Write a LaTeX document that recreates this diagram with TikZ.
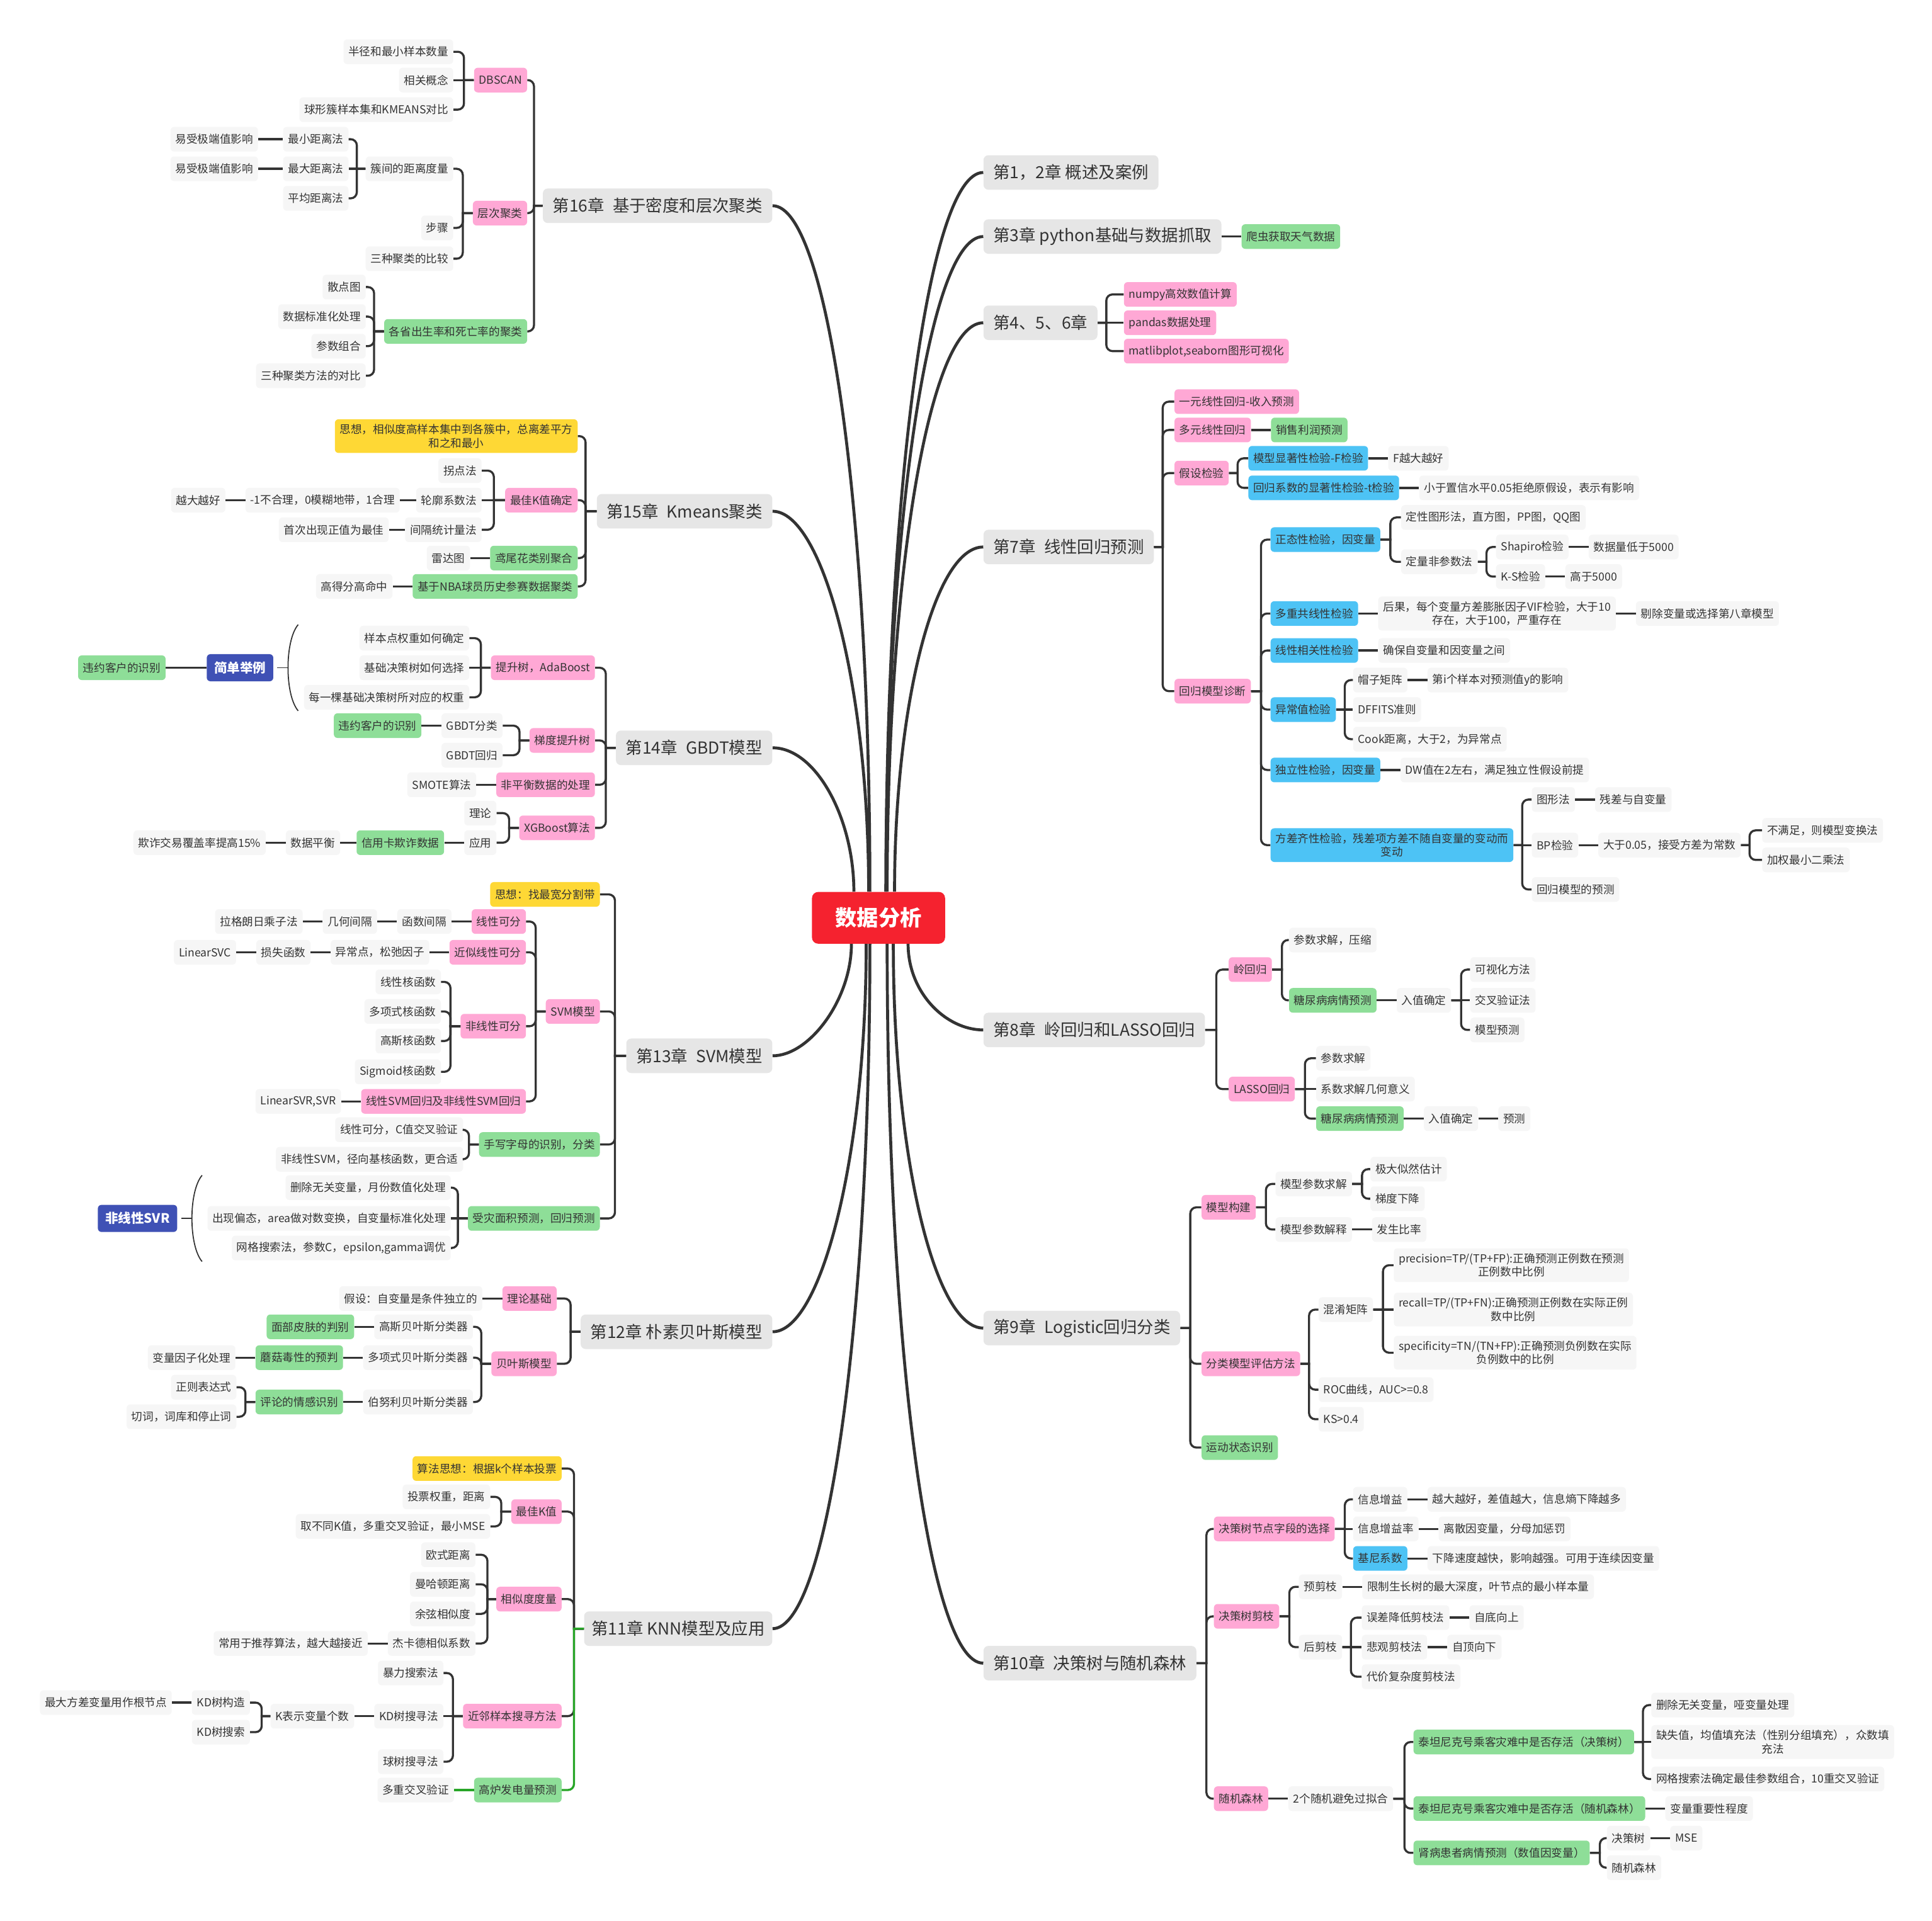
\documentclass[tikz,border=0pt]{standalone}
\usepackage{fontspec}
\setmainfont{Noto Sans CJK SC}
\usepackage{tikz}
\usetikzlibrary{positioning,calc}

\definecolor{ink}{HTML}{333333}
\definecolor{mline}{HTML}{333333}
\definecolor{mgline}{HTML}{27A527}
\definecolor{rootred}{HTML}{F5222F}
\definecolor{chapgray}{HTML}{E6E6E6}
\definecolor{leafgray}{HTML}{F6F6F6}
\definecolor{mpink}{HTML}{FFA8D5}
\definecolor{mgreen}{HTML}{8EDE98}
\definecolor{mblue}{HTML}{4DC3F5}
\definecolor{myellow}{HTML}{FED835}
\definecolor{mindigo}{HTML}{3F51B5}

\begin{document}
\begin{tikzpicture}[x=1pt,y=-1pt,
    leaf/.style={rounded corners=3pt,fill=leafgray,text=ink,font=\fontsize{9}{11}\selectfont,inner xsep=4pt,inner ysep=4pt,minimum height=20pt,align=center},
    pk/.style={leaf,fill=mpink},
    gn/.style={leaf,fill=mgreen},
    bl/.style={leaf,fill=mblue},
    yl/.style={leaf,fill=myellow},
    tag/.style={leaf,fill=mindigo,text=white,font=\fontsize{10.5}{12}\selectfont\bfseries,inner xsep=6pt,minimum height=22pt},
    chap/.style={rounded corners=4pt,fill=chapgray,text=ink,font=\fontsize{13.5}{16}\selectfont,inner xsep=8pt,minimum height=28pt},
    hub/.style={rounded corners=5pt,fill=rootred,text=white,font=\fontsize{17.5}{20}\selectfont\bfseries,inner xsep=19pt,minimum height=42pt},
    link/.style={draw=mline,line width=1.7pt},
    trunk/.style={draw=mline,line width=2.4pt},
    node distance=16pt,
]
    \useasboundingbox (0,0) rectangle (1568,1559);
    \fill[white] (0,0) rectangle (1568,1559);

    \node[hub] (root) at (713,745) {数据分析};

    % right half
    \node[chap,anchor=west] (ch1) at (798,140) {第1，2章 概述及案例};
    \node[chap,anchor=west] (ch3) at (798,192) {第3章 python基础与数据抓取};
    \node[gn,right=of ch3] (weather) {爬虫获取天气数据};
    \node[chap,anchor=west] (ch4) at (798,262) {第4、5、6章};
    \node[pk,anchor=west] (numpy) at (912,239) {numpy高效数值计算};
    \node[pk,anchor=west] (pandas) at (912,262) {pandas数据处理};
    \node[pk,anchor=west] (plotlib) at (912,285) {matlibplot,seaborn图形可视化};

    \node[chap,anchor=west] (ch7) at (798,444) {第7章\enspace 线性回归预测};
    \node[pk,anchor=west] (linA) at (953,326) {一元线性回归-收入预测};
    \node[pk,anchor=west] (linB) at (953,349) {多元线性回归};
    \node[gn,right=of linB] (linBx) {销售利润预测};
    \node[pk,anchor=west] (hyp) at (953,384) {假设检验};
    \node[bl,anchor=west] (ftest) at (1013,372) {模型显著性检验-F检验};
    \node[leaf,right=of ftest] (ftestx) {F越大越好};
    \node[bl,anchor=west] (ttest) at (1013,396) {回归系数的显著性检验-t检验};
    \node[leaf,right=of ttest] (ttestx) {小于置信水平0.05拒绝原假设，表示有影响};
    \node[pk,anchor=west] (diag) at (953,561) {回归模型诊断};
    \node[bl,anchor=west] (norm) at (1031,438) {正态性检验，因变量};
    \node[leaf,anchor=west] (normA) at (1137,420) {定性图形法，直方图，PP图，QQ图};
    \node[leaf,anchor=west] (normB) at (1137,456) {定量非参数法};
    \node[leaf,anchor=west] (shapiro) at (1214,444) {Shapiro检验};
    \node[leaf,right=of shapiro] (shapirox) {数据量低于5000};
    \node[leaf,anchor=west] (kstest) at (1214,468) {K-S检验};
    \node[leaf,right=of kstest] (kstestx) {高于5000};
    \node[bl,anchor=west] (vif) at (1031,498) {多重共线性检验};
    \node[leaf,right=of vif] (vifx) {后果，每个变量方差膨胀因子VIF检验，大于10\\存在，大于100，严重存在};
    \node[leaf,right=of vifx] (vifxx) {剔除变量或选择第八章模型};
    \node[bl,anchor=west] (lincor) at (1031,528) {线性相关性检验};
    \node[leaf,right=of lincor] (lincorx) {确保自变量和因变量之间};
    \node[bl,anchor=west] (outl) at (1031,576) {异常值检验};
    \node[leaf,anchor=west] (hat) at (1098,552) {帽子矩阵};
    \node[leaf,right=of hat] (hatx) {第i个样本对预测值y的影响};
    \node[leaf,anchor=west] (dffits) at (1098,576) {DFFITS准则};
    \node[leaf,anchor=west] (cook) at (1098,600) {Cook距离，大于2，为异常点};
    \node[bl,anchor=west] (indep) at (1031,625) {独立性检验，因变量};
    \node[leaf,right=of indep] (indepx) {DW值在2左右，满足独立性假设前提};
    \node[bl,anchor=west] (homo) at (1031,686) {方差齐性检验，残差项方差不随自变量的变动而\\变动};
    \node[leaf,anchor=west] (graph) at (1243,649) {图形法};
    \node[leaf,right=of graph] (graphx) {残差与自变量};
    \node[leaf,anchor=west] (bp) at (1243,686) {BP检验};
    \node[leaf,right=of bp] (bpx) {大于0.05，接受方差为常数};
    \node[leaf,anchor=west] (bpA) at (1430,674) {不满足，则模型变换法};
    \node[leaf,anchor=west] (bpB) at (1430,698) {加权最小二乘法};
    \node[leaf,anchor=west] (regpred) at (1243,722) {回归模型的预测};

    \node[chap,anchor=west] (ch8) at (798,836) {第8章\enspace 岭回归和LASSO回归};
    \node[pk,anchor=west] (ridge) at (997,787) {岭回归};
    \node[leaf,anchor=west] (ridgeA) at (1046,763) {参数求解，压缩};
    \node[gn,anchor=west] (ridgeB) at (1046,812) {糖尿病病情预测};
    \node[leaf,right=of ridgeB] (ridgeK) {入值确定};
    \node[leaf,anchor=west] (ridgeK1) at (1193,787) {可视化方法};
    \node[leaf,anchor=west] (ridgeK2) at (1193,812) {交叉验证法};
    \node[leaf,anchor=west] (ridgeK3) at (1193,836) {模型预测};
    \node[pk,anchor=west] (lasso) at (997,884) {LASSO回归};
    \node[leaf,anchor=west] (lassoA) at (1068,859) {参数求解};
    \node[leaf,anchor=west] (lassoB) at (1068,884) {系数求解几何意义};
    \node[gn,anchor=west] (lassoC) at (1068,908) {糖尿病病情预测};
    \node[leaf,right=of lassoC] (lassoK) {入值确定};
    \node[leaf,right=of lassoK] (lassoP) {预测};

    \node[chap,anchor=west] (ch9) at (798,1078) {第9章\enspace Logistic回归分类};
    \node[pk,anchor=west] (build) at (975,980) {模型构建};
    \node[leaf,anchor=west] (solve) at (1035,961) {模型参数求解};
    \node[leaf,anchor=west] (mle) at (1112,949) {极大似然估计};
    \node[leaf,anchor=west] (gd) at (1112,973) {梯度下降};
    \node[leaf,anchor=west] (interp) at (1035,998) {模型参数解释};
    \node[leaf,right=of interp] (odds) {发生比率};
    \node[pk,anchor=west] (evalm) at (975,1107) {分类模型评估方法};
    \node[leaf,anchor=west] (confm) at (1070,1063) {混淆矩阵};
    \node[leaf,anchor=west] (prec) at (1131,1027) {precision=TP/(TP+FP):正确预测正例数在预测\\正例数中比例};
    \node[leaf,anchor=west] (recall) at (1131,1063) {recall=TP/(TP+FN):正确预测正例数在实际正例\\数中比例};
    \node[leaf,anchor=west] (spec) at (1131,1098) {specificity=TN/(TN+FP):正确预测负例数在实际\\负例数中的比例};
    \node[leaf,anchor=west] (roc) at (1070,1128) {ROC曲线，AUC>=0.8};
    \node[leaf,anchor=west] (ks) at (1070,1152) {KS>0.4};
    \node[gn,anchor=west] (motion) at (975,1175) {运动状态识别};

    \node[chap,anchor=west] (ch10) at (798,1350) {第10章\enspace 决策树与随机森林};
    \node[pk,anchor=west] (split) at (985,1241) {决策树节点字段的选择};
    \node[leaf,anchor=west] (gain) at (1098,1217) {信息增益};
    \node[leaf,right=of gain] (gainx) {越大越好，差值越大，信息熵下降越多};
    \node[leaf,anchor=west] (gainr) at (1098,1241) {信息增益率};
    \node[leaf,right=of gainr] (gainrx) {离散因变量，分母加惩罚};
    \node[bl,anchor=west] (gini) at (1098,1265) {基尼系数};
    \node[leaf,right=of gini] (ginix) {下降速度越快，影响越强。可用于连续因变量};
    \node[pk,anchor=west] (prune) at (985,1312) {决策树剪枝};
    \node[leaf,anchor=west] (pre) at (1054,1288) {预剪枝};
    \node[leaf,right=of pre] (prex) {限制生长树的最大深度，叶节点的最小样本量};
    \node[leaf,anchor=west] (post) at (1054,1337) {后剪枝};
    \node[leaf,anchor=west] (rep) at (1105,1313) {误差降低剪枝法};
    \node[leaf,right=of rep] (repx) {自底向上};
    \node[leaf,anchor=west] (pes) at (1105,1337) {悲观剪枝法};
    \node[leaf,right=of pes] (pesx) {自顶向下};
    \node[leaf,anchor=west] (ccp) at (1105,1361) {代价复杂度剪枝法};
    \node[pk,anchor=west] (rf) at (985,1460) {随机森林};
    \node[leaf,right=of rf] (rfx) {2个随机避免过拟合};
    \node[gn,anchor=west] (tita) at (1147,1414) {泰坦尼克号乘客灾难中是否存活（决策树）};
    \node[leaf,anchor=west] (titaA) at (1340,1384) {删除无关变量，哑变量处理};
    \node[leaf,anchor=west] (titaB) at (1340,1414) {缺失值，均值填充法（性别分组填充），众数填\\充法};
    \node[leaf,anchor=west] (titaC) at (1340,1444) {网格搜索法确定最佳参数组合，10重交叉验证};
    \node[gn,anchor=west] (titb) at (1147,1468) {泰坦尼克号乘客灾难中是否存活（随机森林）};
    \node[leaf,right=of titb] (titbx) {变量重要性程度};
    \node[gn,anchor=west] (kidney) at (1147,1504) {肾病患者病情预测（数值因变量）};
    \node[leaf,anchor=west] (kdt) at (1304,1492) {决策树};
    \node[leaf,right=of kdt] (kdtx) {MSE};
    \node[leaf,anchor=west] (krf) at (1304,1516) {随机森林};

    % left half
    \node[chap,anchor=east] (ch16) at (627,167) {第16章\enspace 基于密度和层次聚类};
    \node[pk,anchor=east] (dbscan) at (428,65) {DBSCAN};
    \node[leaf,anchor=east] (dbA) at (368,42) {半径和最小样本数量};
    \node[leaf,anchor=east] (dbB) at (368,65) {相关概念};
    \node[leaf,anchor=east] (dbC) at (368,89) {球形簇样本集和KMEANS对比};
    \node[pk,anchor=east] (hier) at (428,173) {层次聚类};
    \node[leaf,anchor=east] (clud) at (368,137) {簇间的距离度量};
    \node[leaf,anchor=east] (dmin) at (283,113) {最小距离法};
    \node[leaf,left=20pt of dmin] (dminx) {易受极端值影响};
    \node[leaf,anchor=east] (dmax) at (283,137) {最大距离法};
    \node[leaf,left=20pt of dmax] (dmaxx) {易受极端值影响};
    \node[leaf,anchor=east] (davg) at (283,161) {平均距离法};
    \node[leaf,anchor=east] (steps) at (368,185) {步骤};
    \node[leaf,anchor=east] (cmp3) at (368,210) {三种聚类的比较};
    \node[gn,anchor=east] (births) at (428,269) {各省出生率和死亡率的聚类};
    \node[leaf,anchor=east] (scatter) at (297,233) {散点图};
    \node[leaf,anchor=east] (stdz) at (297,257) {数据标准化处理};
    \node[leaf,anchor=east] (params) at (297,281) {参数组合};
    \node[leaf,anchor=east] (cmpm) at (297,305) {三种聚类方法的对比};

    \node[chap,anchor=east] (ch15) at (627,415) {第15章\enspace Kmeans聚类};
    \node[yl,anchor=east] (kidea) at (469,354) {思想，相似度高样本集中到各簇中，总离差平方\\和之和最小};
    \node[pk,anchor=east] (bestk) at (469,406) {最佳K值确定};
    \node[leaf,anchor=east] (elbow) at (391,382) {拐点法};
    \node[leaf,anchor=east] (silh) at (391,406) {轮廓系数法};
    \node[leaf,left=13pt of silh] (silhx) {-1不合理，0模糊地带，1合理};
    \node[leaf,left=of silhx] (silhxx) {越大越好};
    \node[leaf,anchor=east] (gap) at (391,430) {间隔统计量法};
    \node[leaf,left=13pt of gap] (gapx) {首次出现正值为最佳};
    \node[gn,anchor=east] (iris) at (469,453) {鸢尾花类别聚合};
    \node[leaf,left=of iris] (irisx) {雷达图};
    \node[gn,anchor=east] (nba) at (469,476) {基于NBA球员历史参赛数据聚类};
    \node[leaf,left=of nba] (nbax) {高得分高命中};

    \node[chap,anchor=east] (ch14) at (627,607) {第14章\enspace GBDT模型};
    \node[pk,anchor=east] (ada) at (483,542) {提升树，AdaBoost};
    \node[leaf,anchor=east] (adaA) at (381,518) {样本点权重如何确定};
    \node[leaf,anchor=east] (adaB) at (381,542) {基础决策树如何选择};
    \node[leaf,anchor=east] (adaC) at (381,566) {每一棵基础决策树所对应的权重};
    \node[tag,anchor=east] (ex1) at (222,542) {简单举例};
    \node[gn,left=33pt of ex1] (ex1x) {违约客户的识别};
    \coordinate (sum1) at (234,542);
    \node[pk,anchor=east] (gbt) at (483,601) {梯度提升树};
    \node[leaf,anchor=east] (gbdtc) at (408,589) {GBDT分类};
    \node[gn,left=of gbdtc] (gbdtcx) {违约客户的识别};
    \node[leaf,anchor=east] (gbdtr) at (408,613) {GBDT回归};
    \node[pk,anchor=east] (imb) at (483,637) {非平衡数据的处理};
    \node[leaf,left=of imb] (smote) {SMOTE算法};
    \node[pk,anchor=east] (xgb) at (483,672) {XGBoost算法};
    \node[leaf,anchor=east] (theory) at (403,660) {理论};
    \node[leaf,anchor=east] (apply) at (403,684) {应用};
    \node[gn,left=of apply] (ccard) {信用卡欺诈数据};
    \node[leaf,left=13pt of ccard] (balance) {数据平衡};
    \node[leaf,left=of balance] (fraud) {欺诈交易覆盖率提高15\%};

    \node[chap,anchor=east] (ch13) at (627,857) {第13章\enspace SVM模型};
    \node[yl,anchor=east] (sidea) at (487,726) {思想：找最宽分割带};
    \node[pk,anchor=east] (svm) at (487,821) {SVM模型};
    \node[pk,anchor=east] (sep) at (427,748) {线性可分};
    \node[leaf,left=of sep] (sepx) {函数间隔};
    \node[leaf,left=of sepx] (sepxx) {几何间隔};
    \node[leaf,left=of sepxx] (sepxxx) {拉格朗日乘子法};
    \node[pk,anchor=east] (asep) at (427,773) {近似线性可分};
    \node[leaf,left=of asep] (asepx) {异常点，松弛因子};
    \node[leaf,left=of asepx] (asepxx) {损失函数};
    \node[leaf,left=of asepxx] (asepxxx) {LinearSVC};
    \node[pk,anchor=east] (nsep) at (427,833) {非线性可分};
    \node[leaf,anchor=east] (kern1) at (358,797) {线性核函数};
    \node[leaf,anchor=east] (kern2) at (358,821) {多项式核函数};
    \node[leaf,anchor=east] (kern3) at (358,845) {高斯核函数};
    \node[leaf,anchor=east] (kern4) at (358,870) {Sigmoid核函数};
    \node[pk,anchor=east] (svr) at (427,894) {线性SVM回归及非线性SVM回归};
    \node[leaf,left=of svr] (svrx) {LinearSVR,SVR};
    \node[gn,anchor=east] (hand) at (487,929) {手写字母的识别，分类};
    \node[leaf,anchor=east] (handA) at (376,917) {线性可分，C值交叉验证};
    \node[leaf,anchor=east] (handB) at (376,941) {非线性SVM，径向基核函数，更合适};
    \node[gn,anchor=east] (fire) at (487,989) {受灾面积预测，回归预测};
    \node[leaf,anchor=east] (fireA) at (366,964) {删除无关变量，月份数值化处理};
    \node[leaf,anchor=east] (fireB) at (366,989) {出现偏态，area做对数变换，自变量标准化处理};
    \node[leaf,anchor=east] (fireC) at (366,1013) {网格搜索法，参数C，epsilon,gamma调优};
    \node[tag,anchor=east] (ex2) at (144,989) {非线性SVR};
    \coordinate (sum2) at (156,989);

    \node[chap,anchor=east] (ch12) at (627,1081) {第12章 朴素贝叶斯模型};
    \node[pk,anchor=east] (nbt) at (452,1054) {理论基础};
    \node[leaf,left=of nbt] (nbtx) {假设：自变量是条件独立的};
    \node[pk,anchor=east] (nbm) at (452,1107) {贝叶斯模型};
    \node[leaf,anchor=east] (gnb) at (384,1077) {高斯贝叶斯分类器};
    \node[gn,left=of gnb] (skin) {面部皮肤的判别};
    \node[leaf,anchor=east] (mnb) at (384,1102) {多项式贝叶斯分类器};
    \node[gn,left=of mnb] (mush) {蘑菇毒性的预判};
    \node[leaf,left=of mush] (mushx) {变量因子化处理};
    \node[leaf,anchor=east] (bnb) at (384,1138) {伯努利贝叶斯分类器};
    \node[gn,left=of bnb] (review) {评论的情感识别};
    \node[leaf,anchor=east] (regex) at (192,1126) {正则表达式};
    \node[leaf,anchor=east] (words) at (192,1150) {切词，词库和停止词};

    \node[chap,anchor=east,inner xsep=6pt] (ch11) at (627,1322) {第11章 KNN模型及应用};
    \node[yl,anchor=east] (kvote) at (456,1192) {算法思想：根据k个样本投票};
    \node[pk,anchor=east] (kbest) at (456,1227) {最佳K值};
    \node[leaf,anchor=east] (kbA) at (398,1215) {投票权重，距离};
    \node[leaf,anchor=east] (kbB) at (398,1239) {取不同K值，多重交叉验证，最小MSE};
    \node[pk,anchor=east] (sim) at (456,1298) {相似度度量};
    \node[leaf,anchor=east] (simA) at (386,1262) {欧式距离};
    \node[leaf,anchor=east] (simB) at (386,1286) {曼哈顿距离};
    \node[leaf,anchor=east] (simC) at (386,1310) {余弦相似度};
    \node[leaf,anchor=east] (simD) at (386,1334) {杰卡德相似系数};
    \node[leaf,left=of simD] (simDx) {常用于推荐算法，越大越接近};
    \node[pk,anchor=east] (search) at (456,1393) {近邻样本搜寻方法};
    \node[leaf,anchor=east] (brute) at (360,1358) {暴力搜索法};
    \node[leaf,anchor=east] (kdsearch) at (360,1393) {KD树搜寻法};
    \node[leaf,left=of kdsearch] (kvars) {K表示变量个数};
    \node[leaf,anchor=east] (kdbuild) at (203,1382) {KD树构造};
    \node[leaf,left=of kdbuild] (kdbuildx) {最大方差变量用作根节点};
    \node[leaf,anchor=east] (kdfind) at (203,1406) {KD树搜索};
    \node[leaf,anchor=east] (ball) at (360,1430) {球树搜寻法};
    \node[gn,anchor=east] (furnace) at (456,1453) {高炉发电量预测};
    \node[leaf,left=of furnace] (furnacex) {多重交叉验证};

    % main branches from the centre
    \draw[trunk] ([xshift=6pt]root.north) .. controls +(0,-320) and +(-45,0) .. (ch1.west);
    \draw[trunk] ([xshift=6pt]root.north) .. controls +(0,-290) and +(-45,0) .. (ch3.west);
    \draw[trunk] ([xshift=7pt]root.north) .. controls +(0,-250) and +(-45,0) .. (ch4.west);
    \draw[trunk] ([xshift=13pt]root.north) .. controls +(0,-150) and +(-40,0) .. (ch7.west);
    \draw[trunk] ([xshift=24pt]root.south) .. controls +(0,40) and +(-30,0) .. (ch8.west);
    \draw[trunk] ([xshift=12pt]root.south) .. controls +(0,170) and +(-40,0) .. (ch9.west);
    \draw[trunk] ([xshift=7pt]root.south) .. controls +(0,320) and +(-45,0) .. (ch10.west);
    \draw[trunk] ([xshift=-7pt]root.north) .. controls +(0,-305) and +(45,0) .. (ch16.east);
    \draw[trunk] ([xshift=-8pt]root.north) .. controls +(0,-170) and +(40,0) .. (ch15.east);
    \draw[trunk] ([xshift=-20pt]root.north) .. controls +(0,-60) and +(35,0) .. (ch14.east);
    \draw[trunk] ([xshift=-22pt]root.south) .. controls +(0,45) and +(30,0) .. (ch13.east);
    \draw[trunk] ([xshift=-10pt]root.south) .. controls +(0,170) and +(40,0) .. (ch12.east);
    \draw[trunk] ([xshift=-7pt]root.south) .. controls +(0,305) and +(45,0) .. (ch11.east);

    % right half connectors
    \draw[link] (ch3.east) -- (weather.west);
    \foreach \k in {numpy,plotlib} \draw[link] (ch4.east) -- ++(7,0) [rounded corners=5pt] |- (\k.west);
    \draw[link] (ch4.east) -- (pandas.west);
    \foreach \k in {linA,linB,hyp,diag} \draw[link] (ch7.east) -- ++(7,0) [rounded corners=5pt] |- (\k.west);
    \draw[link] (linB.east) -- (linBx.west);
    \foreach \k in {ftest,ttest} \draw[link] (hyp.east) -- ++(7,0) [rounded corners=5pt] |- (\k.west);
    \draw[link] (ftest.east) -- (ftestx.west);
    \draw[link] (ttest.east) -- (ttestx.west);
    \foreach \k in {norm,vif,lincor,outl,indep,homo} \draw[link] (diag.east) -- ++(8,0) [rounded corners=5pt] |- (\k.west);
    \foreach \k in {normA,normB} \draw[link] (norm.east) -- ++(8,0) [rounded corners=5pt] |- (\k.west);
    \foreach \k in {shapiro,kstest} \draw[link] (normB.east) -- ++(7,0) [rounded corners=5pt] |- (\k.west);
    \draw[link] (shapiro.east) -- (shapirox.west);
    \draw[link] (kstest.east) -- (kstestx.west);
    \draw[link] (vif.east) -- (vifx.west);
    \draw[link] (vifx.east) -- (vifxx.west);
    \draw[link] (lincor.east) -- (lincorx.west);
    \foreach \k in {hat,cook} \draw[link] (outl.east) -- ++(7,0) [rounded corners=5pt] |- (\k.west);
    \draw[link] (outl.east) -- (dffits.west);
    \draw[link] (hat.east) -- (hatx.west);
    \draw[link] (indep.east) -- (indepx.west);
    \foreach \k in {graph,regpred} \draw[link] (homo.east) -- ++(7,0) [rounded corners=5pt] |- (\k.west);
    \draw[link] (homo.east) -- (bp.west);
    \draw[link] (graph.east) -- (graphx.west);
    \draw[link] (bp.east) -- (bpx.west);
    \foreach \k in {bpA,bpB} \draw[link] (bpx.east) -- ++(7,0) [rounded corners=5pt] |- (\k.west);

    \foreach \k in {ridge,lasso} \draw[link] (ch8.east) -- ++(9,0) [rounded corners=5pt] |- (\k.west);
    \foreach \k in {ridgeA,ridgeB} \draw[link] (ridge.east) -- ++(8,0) [rounded corners=5pt] |- (\k.west);
    \draw[link] (ridgeB.east) -- (ridgeK.west);
    \foreach \k in {ridgeK1,ridgeK3} \draw[link] (ridgeK.east) -- ++(8,0) [rounded corners=5pt] |- (\k.west);
    \draw[link] (ridgeK.east) -- (ridgeK2.west);
    \foreach \k in {lassoA,lassoC} \draw[link] (lasso.east) -- ++(8,0) [rounded corners=5pt] |- (\k.west);
    \draw[link] (lasso.east) -- (lassoB.west);
    \draw[link] (lassoC.east) -- (lassoK.west);
    \draw[link] (lassoK.east) -- (lassoP.west);

    \foreach \k in {build,evalm,motion} \draw[link] (ch9.east) -- ++(8,0) [rounded corners=5pt] |- (\k.west);
    \foreach \k in {solve,interp} \draw[link] (build.east) -- ++(8,0) [rounded corners=5pt] |- (\k.west);
    \foreach \k in {mle,gd} \draw[link] (solve.east) -- ++(8,0) [rounded corners=5pt] |- (\k.west);
    \draw[link] (interp.east) -- (odds.west);
    \foreach \k in {confm,roc,ks} \draw[link] (evalm.east) -- ++(7,0) [rounded corners=5pt] |- (\k.west);
    \foreach \k in {prec,spec} \draw[link] (confm.east) -- ++(8,0) [rounded corners=5pt] |- (\k.west);
    \draw[link] (confm.east) -- (recall.west);

    \foreach \k in {split,prune,rf} \draw[link] (ch10.east) -- ++(8,0) [rounded corners=5pt] |- (\k.west);
    \foreach \k in {gain,gini} \draw[link] (split.east) -- ++(8,0) [rounded corners=5pt] |- (\k.west);
    \draw[link] (split.east) -- (gainr.west);
    \draw[link] (gain.east) -- (gainx.west);
    \draw[link] (gainr.east) -- (gainrx.west);
    \draw[link] (gini.east) -- (ginix.west);
    \foreach \k in {pre,post} \draw[link] (prune.east) -- ++(8,0) [rounded corners=5pt] |- (\k.west);
    \draw[link] (pre.east) -- (prex.west);
    \foreach \k in {rep,ccp} \draw[link] (post.east) -- ++(7,0) [rounded corners=5pt] |- (\k.west);
    \draw[link] (post.east) -- (pes.west);
    \draw[link] (rep.east) -- (repx.west);
    \draw[link] (pes.east) -- (pesx.west);
    \draw[link] (rf.east) -- (rfx.west);
    \foreach \k in {tita,titb,kidney} \draw[link] (rfx.east) -- ++(9,0) [rounded corners=5pt] |- (\k.west);
    \foreach \k in {titaA,titaC} \draw[link] (tita.east) -- ++(7,0) [rounded corners=5pt] |- (\k.west);
    \draw[link] (tita.east) -- (titaB.west);
    \draw[link] (titb.east) -- (titbx.west);
    \foreach \k in {kdt,krf} \draw[link] (kidney.east) -- ++(8,0) [rounded corners=5pt] |- (\k.west);
    \draw[link] (kdt.east) -- (kdtx.west);

    % left half connectors
    \foreach \k in {dbscan,hier,births} \draw[link] (ch16.west) -- ++(-7,0) [rounded corners=5pt] |- (\k.east);
    \foreach \k in {dbA,dbC} \draw[link] (dbscan.west) -- ++(-8,0) [rounded corners=5pt] |- (\k.east);
    \draw[link] (dbscan.west) -- (dbB.east);
    \foreach \k in {clud,steps,cmp3} \draw[link] (hier.west) -- ++(-8,0) [rounded corners=5pt] |- (\k.east);
    \foreach \k in {dmin,davg} \draw[link] (clud.west) -- ++(-7,0) [rounded corners=5pt] |- (\k.east);
    \draw[link] (clud.west) -- (dmax.east);
    \draw[link] (dmin.west) -- (dminx.east);
    \draw[link] (dmax.west) -- (dmaxx.east);
    \foreach \k in {scatter,stdz,params,cmpm} \draw[link] (births.west) -- ++(-8,0) [rounded corners=5pt] |- (\k.east);

    \foreach \k in {kidea,bestk,iris,nba} \draw[link] (ch15.west) -- ++(-9,0) [rounded corners=5pt] |- (\k.east);
    \foreach \k in {elbow,gap} \draw[link] (bestk.west) -- ++(-9,0) [rounded corners=5pt] |- (\k.east);
    \draw[link] (bestk.west) -- (silh.east);
    \draw[link] (silh.west) -- (silhx.east);
    \draw[link] (silhx.west) -- (silhxx.east);
    \draw[link] (gap.west) -- (gapx.east);
    \draw[link] (iris.west) -- (irisx.east);
    \draw[link] (nba.west) -- (nbax.east);

    \foreach \k in {ada,gbt,imb,xgb} \draw[link] (ch14.west) -- ++(-8,0) [rounded corners=5pt] |- (\k.east);
    \foreach \k in {adaA,adaC} \draw[link] (ada.west) -- ++(-8,0) [rounded corners=5pt] |- (\k.east);
    \draw[link] (ada.west) -- (adaB.east);
    \draw[mline,line width=0.9pt] (242,507) .. controls (231,520) and (231,564) .. (242,577);
    \draw[mline,line width=0.9pt] (sum1) -- ++(-9,0);
    \draw[link] (ex1.west) -- (ex1x.east);
    \foreach \k in {gbdtc,gbdtr} \draw[link] (gbt.west) -- ++(-8,0) [rounded corners=5pt] |- (\k.east);
    \draw[link] (gbdtc.west) -- (gbdtcx.east);
    \draw[link] (imb.west) -- (smote.east);
    \foreach \k in {theory,apply} \draw[link] (xgb.west) -- ++(-8,0) [rounded corners=5pt] |- (\k.east);
    \draw[link] (apply.west) -- (ccard.east);
    \draw[link] (ccard.west) -- (balance.east);
    \draw[link] (balance.west) -- (fraud.east);

    \foreach \k in {sidea,svm,hand,fire} \draw[link] (ch13.west) -- ++(-9,0) [rounded corners=5pt] |- (\k.east);
    \foreach \k in {sep,asep,nsep,svr} \draw[link] (svm.west) -- ++(-8,0) [rounded corners=5pt] |- (\k.east);
    \draw[link] (sep.west) -- (sepx.east);
    \draw[link] (sepx.west) -- (sepxx.east);
    \draw[link] (sepxx.west) -- (sepxxx.east);
    \draw[link] (asep.west) -- (asepx.east);
    \draw[link] (asepx.west) -- (asepxx.east);
    \draw[link] (asepxx.west) -- (asepxxx.east);
    \foreach \k in {kern1,kern2,kern3,kern4} \draw[link] (nsep.west) -- ++(-8,0) [rounded corners=5pt] |- (\k.east);
    \draw[link] (svr.west) -- (svrx.east);
    \foreach \k in {handA,handB} \draw[link] (hand.west) -- ++(-8,0) [rounded corners=5pt] |- (\k.east);
    \foreach \k in {fireA,fireC} \draw[link] (fire.west) -- ++(-8,0) [rounded corners=5pt] |- (\k.east);
    \draw[link] (fire.west) -- (fireB.east);
    \draw[mline,line width=0.9pt] (164,954) .. controls (153,967) and (153,1011) .. (164,1024);
    \draw[mline,line width=0.9pt] (sum2) -- ++(-9,0);

    \foreach \k in {nbt,nbm} \draw[link] (ch12.west) -- ++(-8,0) [rounded corners=5pt] |- (\k.east);
    \draw[link] (nbt.west) -- (nbtx.east);
    \foreach \k in {gnb,mnb,bnb} \draw[link] (nbm.west) -- ++(-8,0) [rounded corners=5pt] |- (\k.east);
    \draw[link] (gnb.west) -- (skin.east);
    \draw[link] (mnb.west) -- (mush.east);
    \draw[link] (mush.west) -- (mushx.east);
    \draw[link] (bnb.west) -- (review.east);
    \foreach \k in {regex,words} \draw[link] (review.west) -- ++(-8,0) [rounded corners=5pt] |- (\k.east);

    \foreach \k in {kvote,kbest,sim,search} \draw[link] (ch11.west) -- ++(-8,0) [rounded corners=5pt] |- (\k.east);
    \foreach \k in {kbA,kbB} \draw[link] (kbest.west) -- ++(-8,0) [rounded corners=5pt] |- (\k.east);
    \foreach \k in {simA,simB,simC,simD} \draw[link] (sim.west) -- ++(-7,0) [rounded corners=5pt] |- (\k.east);
    \draw[link] (simD.west) -- (simDx.east);
    \foreach \k in {brute,ball} \draw[link] (search.west) -- ++(-8,0) [rounded corners=5pt] |- (\k.east);
    \draw[link] (search.west) -- (kdsearch.east);
    \draw[link] (kdsearch.west) -- (kvars.east);
    \foreach \k in {kdbuild,kdfind} \draw[link] (kvars.west) -- ++(-7,0) [rounded corners=5pt] |- (\k.east);
    \draw[link] (kdbuild.west) -- (kdbuildx.east);
    \draw[link,draw=mgline] (ch11.west) -- ++(-8,0) [rounded corners=5pt] |- (furnace.east);
    \draw[link,draw=mgline] (furnace.west) -- (furnacex.east);
\end{tikzpicture}
\end{document}
